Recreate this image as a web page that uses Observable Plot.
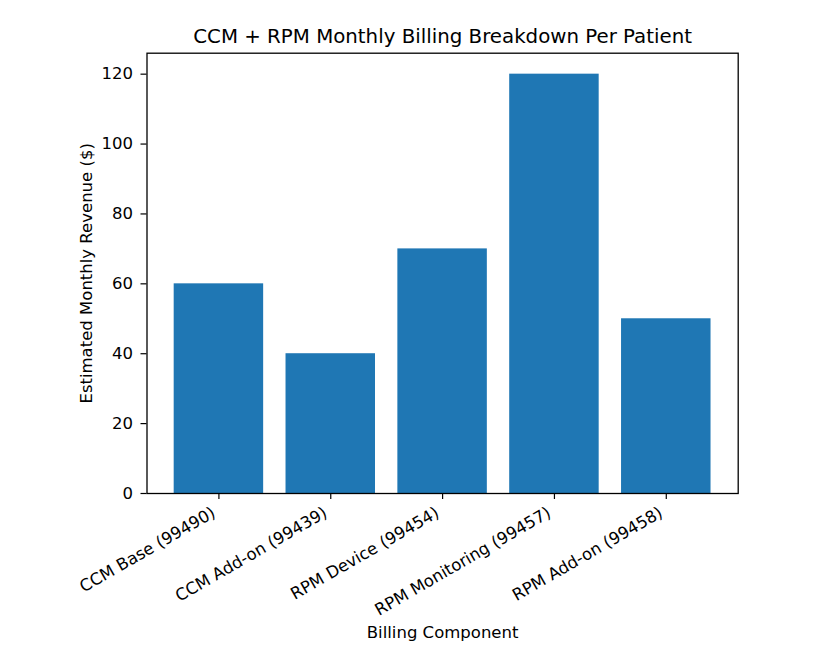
<!DOCTYPE html>
<html><head><meta charset="utf-8">
<script src="https://cdn.jsdelivr.net/npm/d3@7"></script>
<script src="https://cdn.jsdelivr.net/npm/@observablehq/plot@0.6"></script>
<style>
html,body{margin:0;padding:0;background:#fff;}
svg{font-family:"DejaVu Sans",sans-serif;}
</style></head>
<body><div id="chart"></div>
<script>
const components = ["CCM Base (99490)", "CCM Add-on (99439)", "RPM Device (99454)", "RPM Monitoring (99457)", "RPM Add-on (99458)"];
const revenue = [60, 40, 70, 120, 50];
const yTicks = [0, 20, 40, 60, 80, 100, 120];
const title = "CCM + RPM Monthly Billing Breakdown Per Patient";
const xLabel = "Billing Component";
const yLabel = "Estimated Monthly Revenue ($)";

const data = components.map((c, i) => ({component: c, value: revenue[i]}));

const chart = Plot.plot({
  width: 834,
  height: 656,
  marginLeft: 146.5,
  marginRight: 96.3,
  marginTop: 52.7,
  marginBottom: 163,
  style: {fontFamily: '"DejaVu Sans", sans-serif', fontSize: "16.5px", color: "#000", background: "#fff"},
  x: {domain: components, paddingInner: 0.2, paddingOuter: 0.243, round: false, label: null},
  y: {domain: [0, 126], label: null},
  marks: [
    Plot.barY(data, {x: "component", y: "value", fill: "#1f77b4"}),
    Plot.axisY({ticks: yTicks, tickSize: 6, tickPadding: 8, fontSize: 16.5, label: null, stroke: "#000", strokeWidth: 1.2}),
    Plot.axisX({tickSize: 6, tickFormat: () => "", label: null, stroke: "#000", strokeWidth: 1.2}),
    Plot.text(components, {x: d => d, y: 0, dx: -5, dy: 18, rotate: -30, textAnchor: "end", lineAnchor: "middle", fontSize: 16.5, text: d => d}),
    Plot.frame({stroke: "#000", strokeWidth: 1.3}),
    Plot.text([title], {frameAnchor: "top", dy: -16.5, lineAnchor: "middle", fontSize: 19.8, text: d => d}),
    Plot.text([xLabel], {frameAnchor: "bottom", dy: 139, lineAnchor: "middle", fontSize: 16.5, text: d => d}),
    Plot.text([yLabel], {frameAnchor: "left", dx: -60, rotate: -90, textAnchor: "middle", lineAnchor: "middle", fontSize: 16.5, text: d => d})
  ]
});
document.getElementById("chart").appendChild(chart);
</script>
</body></html>
